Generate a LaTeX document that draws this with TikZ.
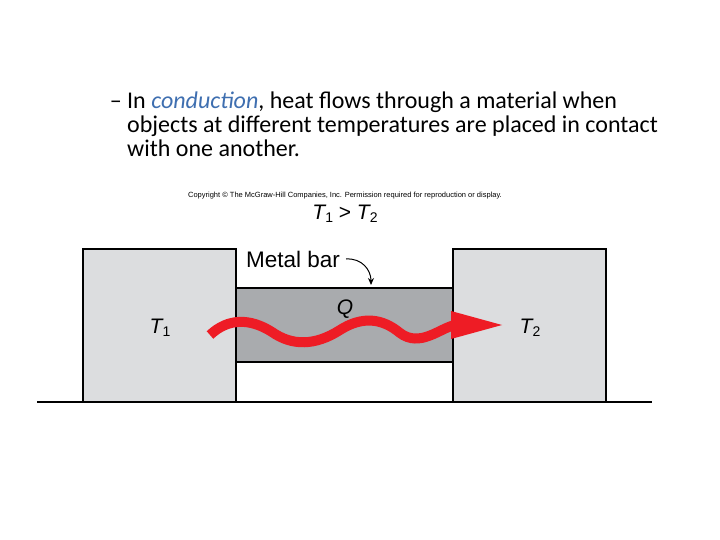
\documentclass[tikz,border=0pt]{standalone}
\usepackage{fontspec}
\setmainfont{Carlito}
\newfontfamily\arialf{Liberation Sans}
\usetikzlibrary{arrows.meta}
\definecolor{blk}{HTML}{DCDDDF}
\definecolor{bar}{HTML}{A9ABAE}
\definecolor{hot}{HTML}{EE1C25}
\definecolor{cblue}{HTML}{3F6FB0}
\newcommand{\Tsub}[1]{{\itshape T}\raisebox{-0.3ex}{\fontsize{14}{14}\selectfont\upshape #1}}
\begin{document}
\begin{tikzpicture}[x=1pt,y=-1pt,
  solid/.style={draw=black,line width=1.6pt},
  lab/.style={font=\arialf\fontsize{22.5}{24}\selectfont},
  ilab/.style={font=\arialf\fontsize{21}{22}\selectfont}]
\useasboundingbox (0,0) rectangle (720,540);
\node[anchor=north west,align=left,font=\fontsize{24}{23.6}\selectfont,inner sep=0] (txt) at (127,92)
 {\llap{– }In \textcolor{cblue}{\itshape conduction}, heat flows through a material when\\
  objects at different temperatures are placed in contact\\
  with one another.};
\node[font=\arialf\fontsize{7.5}{8}\selectfont,inner sep=0] (copy) at (345,196) {Copyright © The McGraw-Hill Companies, Inc. Permission required for reproduction or display.};
\node[ilab] (tt) at (345,214) {\Tsub{1} > \Tsub{2}};
\fill[blk] (83,249) rectangle (236,402);
\fill[blk] (453,249) rectangle (606,402);
\fill[bar] (236,288) rectangle (453,362);
\draw[solid] (236,402) -- (236,249) -- (83,249) -- (83,402);
\draw[solid] (453,402) -- (453,249) -- (606,249) -- (606,402);
\draw[solid] (236,288) -- (453,288) (236,362) -- (453,362);
\draw[solid] (37,402) -- (652,402);
\node[lab,anchor=base west,inner sep=0] (mb) at (246,267) {Metal bar};
\coordinate (mbe) at (346,259);
\coordinate (mbt) at (371,285);
\draw[line width=1pt,-{Stealth[length=7pt,width=6pt]}] (mbe) .. controls (362,258) and (371,270) .. (mbt);
\node[ilab] (q) at (345,309) {{\itshape Q}};
\node[ilab] (t1) at (160,328) {\Tsub{1}};
\node[ilab] (t2) at (530,328) {\Tsub{2}};
\coordinate (w0) at (210,335);
\coordinate (w4) at (455,325);
\draw[hot,line width=10pt] (w0) .. controls (228,318) and (250,318) .. (272,332)
  .. controls (292,346) and (315,346) .. (340,330)
  .. controls (362,316) and (382,318) .. (400,333)
  .. controls (420,348) and (440,328) .. (w4);
\coordinate (tip) at (502,325);
\fill[hot] (451,311) -- (tip) -- (451,339) -- cycle;
\end{tikzpicture}
\end{document}
